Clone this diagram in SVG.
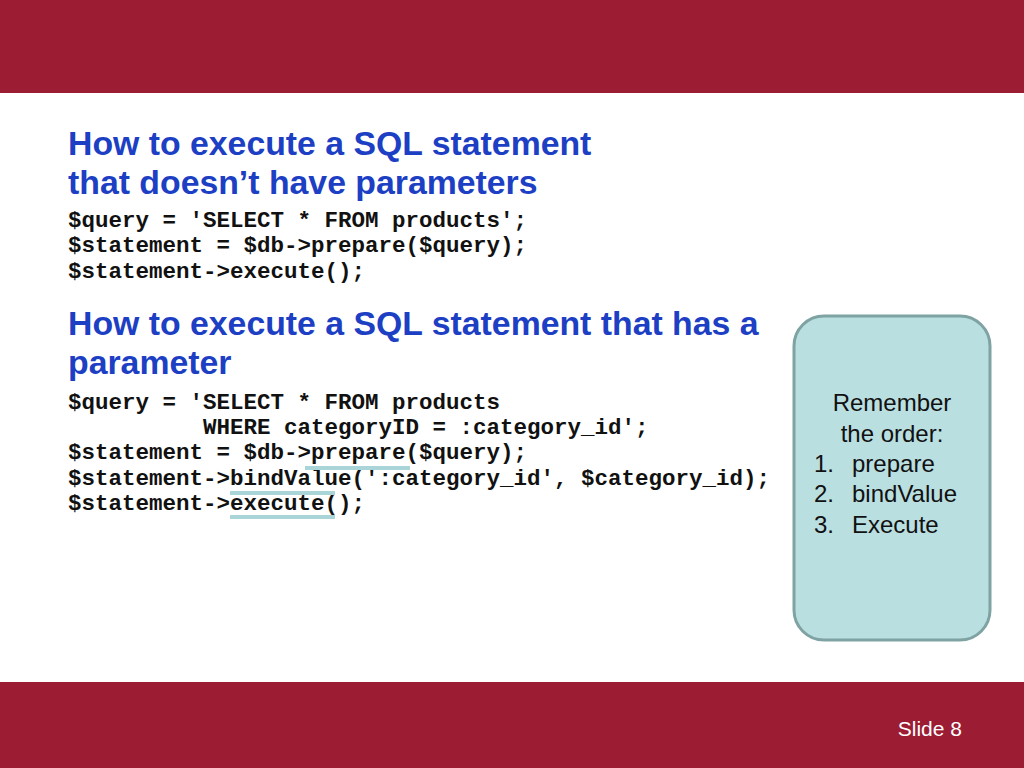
<svg xmlns="http://www.w3.org/2000/svg" width="1024" height="768" viewBox="0 0 1024 768">
<style>
.h{font-family:"Liberation Sans",Arial,sans-serif;font-weight:bold;font-size:33.8px;fill:#1d3fc4}
.c{font-family:"Liberation Mono","Courier New",monospace;font-weight:bold;font-size:22.5px;fill:#111}
.b{font-family:"Liberation Sans",Arial,sans-serif;font-size:24px;fill:#111}
.u{stroke:#a9d5d8;stroke-width:4}
</style>
<rect x="0" y="0" width="1024" height="93" fill="#9b1c33"/>
<rect x="0" y="682" width="1024" height="86" fill="#9b1c33"/>
<rect x="0" y="93" width="1024" height="589" fill="#fff"/>
<text class="h" x="68" y="155">How to execute a SQL statement</text>
<text class="h" x="68" y="194">that doesn’t have parameters</text>
<g class="c">
<text x="68" y="227">$query = 'SELECT * FROM products';</text>
<text x="68" y="252">$statement = $db-&gt;prepare($query);</text>
<text x="68" y="278">$statement-&gt;execute();</text>
</g>
<text class="h" x="68" y="335">How to execute a SQL statement that has a</text>
<text class="h" x="68" y="374">parameter</text>
<g class="c">
<text x="68" y="409">$query = 'SELECT * FROM products</text>
<text x="68" y="434" xml:space="preserve">          WHERE categoryID = :category_id';</text>
<text x="68" y="459">$statement = $db-&gt;prepare($query);</text>
<text x="68" y="485">$statement-&gt;bindValue(':category_id', $category_id);</text>
<text x="68" y="510">$statement-&gt;execute();</text>
</g>
<g id="underlines">
<line class="u" x1="305" y1="468" x2="410" y2="468"/>
<line class="u" x1="230" y1="493" x2="335" y2="493"/>
<line class="u" x1="230" y1="517" x2="335" y2="517"/>
</g>
<g id="note">
<rect x="794" y="316" width="196" height="324" rx="30" fill="#badfe1" stroke="#7fa3a3" stroke-width="3"/>
<text class="b" x="892" y="411" text-anchor="middle">Remember</text>
<text class="b" x="892" y="442" text-anchor="middle">the order:</text>
<text class="b" x="814" y="472">1.</text><text class="b" x="852" y="472">prepare</text>
<text class="b" x="814" y="502">2.</text><text class="b" x="852" y="502">bindValue</text>
<text class="b" x="814" y="533">3.</text><text class="b" x="852" y="533">Execute</text>
</g>
<text x="962" y="736" text-anchor="end" style="font-family:'Liberation Sans',Arial,sans-serif;font-size:21px;fill:#fff">Slide 8</text>
</svg>
